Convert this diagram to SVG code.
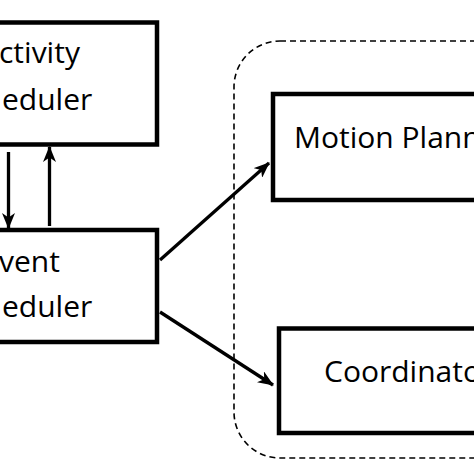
<svg xmlns="http://www.w3.org/2000/svg" width="474" height="474" viewBox="0 0 474 474">
<defs>
<style>
.box{fill:#fff;stroke:#000;stroke-width:4.5}
.lbl{font-family:"Open Sans","Noto Sans",sans-serif;font-size:30px;fill:#000}
.conn{stroke:#000;stroke-width:3.3;fill:none}
.grp{fill:none;stroke:#000;stroke-width:1.6;stroke-dasharray:6 4}
</style>
<marker id="ah" viewBox="0 0 16 13" refX="15" refY="6.5" markerWidth="16" markerHeight="13" markerUnits="userSpaceOnUse" orient="auto">
<path d="M0,0 L16,6.5 L0,13 L4.5,6.5 Z" fill="#000"/>
</marker>
</defs>
<rect width="474" height="474" fill="#fff"/>
<g id="group">
<rect class="grp" x="234" y="41" width="300" height="417" rx="46" ry="46"/>
</g>
<g id="activity-scheduler">
<rect class="box" x="-20" y="22.5" width="177" height="122"/>
<text class="lbl" x="-1" y="63">ctivity</text>
<text class="lbl" x="2" y="110">eduler</text>
</g>
<g id="event-scheduler">
<rect class="box" x="-20" y="230" width="177" height="112"/>
<text class="lbl" x="-1" y="272">vent</text>
<text class="lbl" x="2" y="317">eduler</text>
</g>
<g id="motion-planner">
<rect class="box" x="273" y="94" width="240" height="106"/>
<text class="lbl" x="294" y="148">Motion Plann</text>
</g>
<g id="coordinator">
<rect class="box" x="279" y="328.5" width="240" height="104.5"/>
<text class="lbl" x="324" y="382">Coordinato</text>
</g>
<g id="connectors">
<line class="conn" x1="8.5" y1="152" x2="8.5" y2="228" marker-end="url(#ah)"/>
<line class="conn" x1="49.5" y1="226" x2="49.5" y2="147" marker-end="url(#ah)"/>
<line class="conn" x1="160" y1="260" x2="269" y2="163" marker-end="url(#ah)"/>
<line class="conn" x1="160" y1="312" x2="273" y2="385" marker-end="url(#ah)"/>
</g>
</svg>
